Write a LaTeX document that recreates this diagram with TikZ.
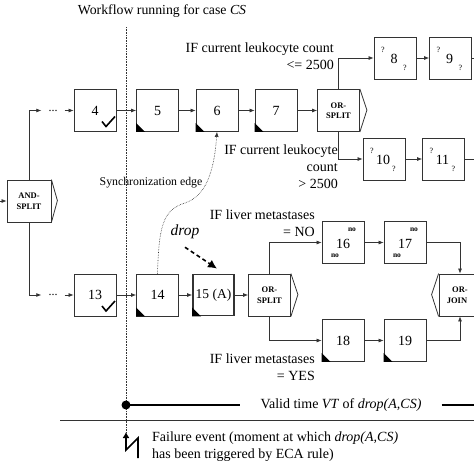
\documentclass[tikz,border=0pt]{standalone}
\usepackage{fontspec}
\setmainfont{Liberation Serif}
\usetikzlibrary{arrows.meta}
\begin{document}
\begin{tikzpicture}[x=1pt,y=-1pt,
 line/.style={draw=black!80,line width=0.7pt},
 arr/.style={line,-{Latex[length=5pt,width=4pt]}},
 task/.style={draw=black!80,line width=0.8pt,minimum width=42pt,minimum height=42pt,inner sep=0pt,font=\fontsize{14}{14}\selectfont,fill=white},
 gate/.style={draw=black!80,line width=0.8pt,minimum width=42pt,minimum height=42pt,inner sep=0pt,align=center,font=\fontsize{8.5}{10.5}\selectfont\bfseries},
 lbl/.style={font=\fontsize{14}{16.8}\selectfont,inner sep=0pt,align=right},
 small/.style={font=\fontsize{8}{8}\selectfont,inner sep=0pt},
 dots/.style={inner xsep=7pt,inner ysep=0pt,font=\fontsize{12}{12}\selectfont},
 ]
\useasboundingbox (0,0) rectangle (474,474);
% title
\node[font=\fontsize{13.8}{14}\selectfont,inner sep=0pt] (title) at (162,11) {Workflow running for case \textit{CS}};
% tasks top
\node[task] (b4) at (95,110.5) {4};
\node[task] (b5) at (157.5,110.5) {5};
\node[task] (b6) at (217,110.5) {6};
\node[task] (b7) at (276,110.5) {7};
\node[gate] (os1) at (338.5,110.5) {OR-\\SPLIT};
\node[task] (b8) at (395,58) {};
\node[task] (b9) at (450.5,58) {};
\node[task] (b10) at (384,159) {};
\node[task] (b11) at (443.5,159) {};
\node[gate,minimum width=44pt] (and) at (29,201) {AND-\\SPLIT};
\node[task] (b13) at (95,295) {13};
\node[task] (b14) at (157.5,295) {14};
\node[task,line width=1.8pt,minimum width=41pt,minimum height=41pt,font=\fontsize{13.5}{13.5}\selectfont] (b15) at (213.5,295) {15 (A)};
\node[gate] (os2) at (269.5,295) {OR-\\SPLIT};
\node[task] (b16) at (343,242.5) {};
\node[task] (b17) at (405,242.5) {};
\node[task] (b18) at (343,340.5) {18};
\node[task] (b19) at (405,340.5) {19};
\node[gate] (oj) at (460,295) {OR-\\JOIN\hspace*{6pt}};
% gateway chevrons
\draw[line,line width=0.8pt] (os1.north east) -- ++(7,21) -- (os1.south east);
\draw[line,line width=0.8pt] (os2.north east) -- ++(7,21) -- (os2.south east);
\draw[line,line width=0.8pt] (and.north east) -- ++(6,21) -- (and.south east);
\draw[line,line width=0.8pt] (oj.north west) -- ++(-7,21) -- (oj.south west);
% question-mark boxes
\foreach \b/\n in {b8/8,b9/9,b10/10,b11/11}{
  \node[small] at ([xshift=-12pt,yshift=8pt]\b.center) {?};
  \node[font=\fontsize{14}{14}\selectfont,inner sep=0pt] at ([xshift=-1pt,yshift=-1pt]\b.center) {\n};
  \node[small] at ([xshift=10pt,yshift=-10pt]\b.center) {?};
}
\foreach \b/\n in {b16/16,b17/17}{
  \node[small,font=\fontsize{7.5}{7.5}\selectfont\bfseries] at ([xshift=9pt,yshift=13pt]\b.center) {no};
  \node[font=\fontsize{14}{14}\selectfont,inner sep=0pt] at ([yshift=-1pt]\b.center) {\n};
  \node[small,font=\fontsize{7.5}{7.5}\selectfont\bfseries] at ([xshift=-8pt,yshift=-13pt]\b.center) {no};
}
% corner triangles
\foreach \b in {b5,b6,b7,b14,b15,b18,b19}{
  \fill (\b.south west) -- ++(9,0) -- ++(-9,-9) -- cycle;
}
% check marks
\foreach \b in {b4,b13}{
  \draw[line width=1.6pt,line join=miter] ([xshift=7pt,yshift=-11pt]\b.center) -- ++(4,5) -- ++(9,-10);
}
% dots
\node[dots] (dT) at (53,110.5) {...};
\node[dots] (dB) at (53,295) {...};
% input to AND
\coordinate (in) at (-2,201);
\draw[arr] (in) -- (and.west);
\draw[arr] (and.north) |- (dT.west);
\draw[arr] (and.south) |- (dB.west);
\draw[arr] (dT.east) -- (b4.west);
\draw[arr] (dB.east) -- (b13.west);
\draw[arr] (b4) -- (b5);
\draw[arr] (b5) -- (b6);
\draw[arr] (b6) -- (b7);
\draw[arr] (b7) -- (os1);
\draw[arr] (os1.north) |- (b8.west);
\draw[arr] (os1.south) |- (b10.west);
\draw[arr] (b8) -- (b9);
\draw[arr] (b10) -- (b11);
\coordinate (e9) at (476,58);
\coordinate (e11) at (476,159);
\draw[line] (b9.east) -- (e9);
\draw[line] (b11.east) -- (e11);
\draw[arr] (b13) -- (b14);
\draw[arr] (b14) -- (b15);
\draw[arr] (b15) -- (os2);
\draw[arr] (os2.north) |- (b16.west);
\draw[arr] (os2.south) |- (b18.west);
\draw[arr] (b16) -- (b17);
\draw[arr] (b18) -- (b19);
\draw[arr] (b17.east) -| (oj.north);
\draw[arr] (b19.east) -| (oj.south);
% synchronization edge
\draw[line,line width=0.6pt,densely dotted,-{Latex[length=5pt,width=4pt]}] (b14.north) .. controls (159,228) and (162,210) .. (185,203) .. controls (206,196) and (214,172) .. (b6.south);
\node[font=\fontsize{11.8}{12}\selectfont,inner sep=0pt] (sync) at (151,183) {Synchronization edge};
% dotted time line
\draw[black!80,line width=0.6pt,densely dotted] (126,27) -- (126,432);
% drop
\node[font=\fontsize{15.5}{15.5}\selectfont\itshape,inner sep=0pt] (drop) at (185,232) {drop};
\draw[line width=1.6pt,dash pattern=on 4pt off 3pt,-{Latex[length=9pt,width=9pt]}] ([yshift=-8pt]drop.south) -- ([xshift=3.5pt,yshift=5pt]b15.north);
% labels
\node[lbl,anchor=east] (l1) at (334,56.5) {IF current leukocyte count\\<= 2500};
\node[lbl,anchor=east] (l2) at (338,166.5) {IF current leukocyte\\count\\> 2500};
\node[lbl,anchor=east] (l3) at (315,223.5) {IF liver metastases\\= NO};
\node[lbl,anchor=east] (l4) at (315,367) {IF liver metastases\\= YES};
% timeline
\node[circle,fill=black,inner sep=0pt,minimum size=9pt] (tdot) at (126,405) {};
\node[font=\fontsize{14}{14}\selectfont,inner xsep=20pt,inner ysep=0pt] (vt) at (341,405) {Valid time \textit{VT} of \textit{drop(A,CS)}};
\coordinate (vend) at (476,405);
\draw[line width=1.8pt] (tdot.center) -- (vt.west);
\draw[line width=1.8pt] (vt.east) -- (vend);
\draw[black!80,line width=0.8pt] (60,420) -- (476,420);
% failure event
\draw[line width=1.6pt,-{Latex[length=6pt,width=7pt]}] (138,458) -- (138,438) -- (126,450) -- (126,432);
\node[font=\fontsize{14}{17}\selectfont,inner sep=0pt,align=left,anchor=west] (fail) at (152,447) {Failure event (moment at which \textit{drop(A,CS)}\\has been triggered by ECA rule)};
\end{tikzpicture}
\end{document}
